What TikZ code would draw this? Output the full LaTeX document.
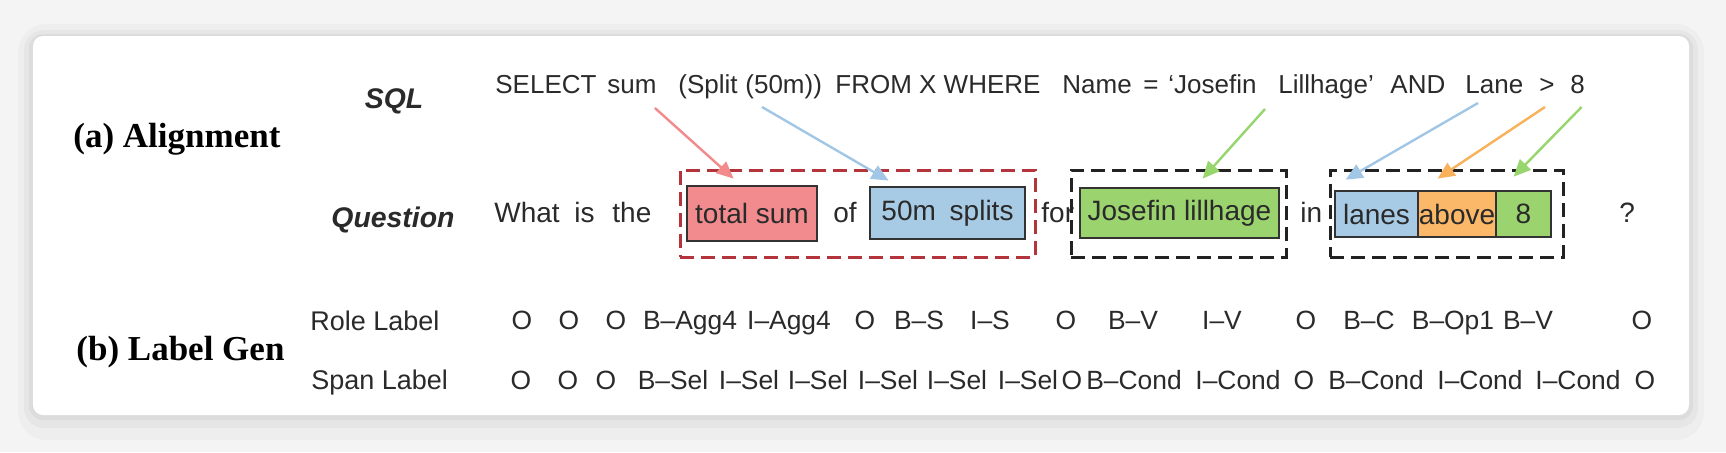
\documentclass[tikz,border=0pt]{standalone}
\usepackage{fontspec}
\setmainfont{Liberation Sans}
\newfontfamily\serifbold{Liberation Serif}
\usepackage{tikz}
\usetikzlibrary{positioning,arrows.meta}

\definecolor{txt}{HTML}{2A2A2A}
\definecolor{bgc}{HTML}{F4F4F4}
\definecolor{boxline}{HTML}{333333}
\definecolor{boxred}{HTML}{F28B8E}
\definecolor{boxblue}{HTML}{A8CBE5}
\definecolor{boxgreen}{HTML}{9BD46F}
\definecolor{boxorange}{HTML}{FBB868}
\definecolor{dashred}{HTML}{B3343A}
\definecolor{dashblack}{HTML}{222222}
\definecolor{arrred}{HTML}{F28A8C}
\definecolor{arrblue}{HTML}{A2C7E6}
\definecolor{arrgreen}{HTML}{97D66C}
\definecolor{arrorange}{HTML}{F8B25C}

\tikzset{
  sqltok/.style={anchor=base west, inner sep=0pt, text=txt, font=\fontsize{13}{16}\selectfont},
  qtok/.style={anchor=base west, inner sep=0pt, text=txt, font=\fontsize{14}{16}\selectfont},
  tokbox/.style={draw=boxline, line width=1.4pt, inner sep=0pt, text=txt, font=\fontsize{14}{16}\selectfont},
  dashbox/.style={line width=1.5pt, dash pattern=on 7pt off 3.5pt, inner sep=0pt},
  rolelab/.style={anchor=base, inner sep=0pt, text=txt, font=\fontsize{13.2}{16}\selectfont},
  rowname/.style={anchor=base west, inner sep=0pt, text=txt, font=\fontsize{13.5}{16}\selectfont},
  partname/.style={anchor=base west, inner sep=0pt, font={\serifbold\bfseries\fontsize{17.5}{20}\selectfont}},
  kindname/.style={anchor=base, inner sep=0pt, text=txt, font={\bfseries\itshape\fontsize{14.2}{17}\selectfont}},
  linkarrow/.style={line width=1.2pt, -{Triangle[length=8.5pt,width=7.5pt]}},
}

\begin{document}
\begin{tikzpicture}[x=0.5pt,y=-0.5pt]
\useasboundingbox (0,0) rectangle (1726,452);
\fill[bgc] (0,0) rectangle (1726,452);
\fill[black, opacity=0.025, rounded corners=14pt] (18,24) rectangle (1704,440);
\fill[black, opacity=0.03, rounded corners=10pt] (24,30) rectangle (1698,428);
\fill[black, opacity=0.04, rounded corners=7pt] (29,34) rectangle (1693,420);
\fill[white, rounded corners=5pt] (33,36) rectangle (1689,415);

% left labels
\node[partname] (AL) at (73,147) {(a) Alignment};
\node[partname] (LG) at (76,360) {(b) Label Gen};
\node[kindname] (SQ) at (394,108) {SQL};
\node[kindname] (QU) at (393,227) {Question};
\node[rowname] (RL) at (310,330) {Role Label};
\node[rowname] (SL) at (311,389) {Span Label};

% sql
\node[sqltok] (S1) at (495,93) {SELECT};
\node[sqltok] (S2) at (607,93) {sum};
\node[sqltok] (S3) at (678,93) {(Split};
\node[sqltok] (S4) at (745,93) {(50m))};
\node[sqltok] (S5) at (835,93) {FROM X WHERE};
\node[sqltok] (S6) at (1062,93) {Name};
\node[sqltok] (S7) at (1143,93) {=};
\node[sqltok] (S8) at (1168,93) {‘Josefin};
\node[sqltok] (S9) at (1278,93) {Lillhage’};
\node[sqltok] (S10) at (1390,93) {AND};
\node[sqltok] (S11) at (1465,93) {Lane};
\node[sqltok] (S12) at (1539,93) {>};
\node[sqltok] (S13) at (1570,93) {8};

% question
\node[qtok] (Q1) at (494,222) {What};
\node[qtok] (Q2) at (574,222) {is};
\node[qtok] (Q3) at (612,222) {the};
\node[qtok] (Q6) at (833,222) {of};
\node[qtok] (Q9) at (1041,222) {for};
\node[qtok] (Q12) at (1300,222) {in};
\node[qtok] (Q16) at (1619,222) {?};

\node[dashbox, draw=dashred, minimum width=177.5pt, minimum height=43.5pt] (D1) at (857.5,213.5) {};
\node[dashbox, draw=dashblack, minimum width=107.5pt, minimum height=43.5pt] (D2) at (1178.5,213.5) {};
\node[dashbox, draw=dashblack, minimum width=116.5pt, minimum height=43.5pt] (D3) at (1446.5,213.5) {};

\node[tokbox, fill=boxred, minimum width=65pt, minimum height=27.5pt] (TS) at (752,213.5) {total sum};
\node[tokbox, fill=boxblue, minimum width=77.5pt, minimum height=26pt] (MS) at (947.5,213) {50m\hspace{3pt} splits};
\node[tokbox, fill=boxgreen, minimum width=99.5pt, minimum height=25pt] (JL) at (1179.5,213) {Josefin lillhage};
\node[tokbox, fill=boxblue, minimum width=41.5pt, minimum height=23pt] (LA) at (1376.5,214) {lanes};
\node[tokbox, fill=boxorange, minimum width=39pt, minimum height=23pt] (AB) at (1457,214) {above};
\node[tokbox, fill=boxgreen, minimum width=27.5pt, minimum height=23pt] (EI) at (1523.5,214) {8};

\draw[linkarrow, arrred] ([shift={(-2,15)}]S2.base east) -- ([shift={(48,-6)}]TS.north west);
\draw[linkarrow, arrblue] ([shift={(17,14)}]S4.base west) -- ([shift={(20,-5)}]MS.north west);
\draw[linkarrow, arrgreen] ([shift={(-13,16)}]S9.base west) -- ([shift={(124,-8)}]JL.north west);
\draw[linkarrow, arrblue] ([shift={(13,10)}]S11.base west) -- ([shift={(12,-10)}]LA.north west);
\draw[linkarrow, arrorange] ([shift={(-2,14)}]S12.base) -- ([shift={(21,-11)}]AB.north west);
\draw[linkarrow, arrgreen] ([shift={(4,14)}]S13.base) -- ([shift={(19,-13)}]EI.north west);

% role labels
\node[rolelab] (R1) at (522,329) {O};
\node[rolelab] (R2) at (569,329) {O};
\node[rolelab] (R3) at (616,329) {O};
\node[rolelab] (R4) at (690,329) {B–Agg4};
\node[rolelab] (R5) at (789,329) {I–Agg4};
\node[rolelab] (R6) at (865,329) {O};
\node[rolelab] (R7) at (919,329) {B–S};
\node[rolelab] (R8) at (990,329) {I–S};
\node[rolelab] (R9) at (1066,329) {O};
\node[rolelab] (R10) at (1133,329) {B–V};
\node[rolelab] (R11) at (1222,329) {I–V};
\node[rolelab] (R12) at (1306,329) {O};
\node[rolelab] (R13) at (1369,329) {B–C};
\node[rolelab] (R14) at (1453,329) {B–Op1};
\node[rolelab] (R15) at (1528,329) {B–V};
\node[rolelab] (R16) at (1642,329) {O};

% span labels
\node[rolelab] (P1) at (521,389) {O};
\node[rolelab] (P2) at (568,389) {O};
\node[rolelab] (P3) at (606,389) {O};
\node[rolelab] (P4) at (673,389) {B–Sel};
\node[rolelab] (P5) at (749,389) {I–Sel};
\node[rolelab] (P6) at (818,389) {I–Sel};
\node[rolelab] (P7) at (888,389) {I–Sel};
\node[rolelab] (P8) at (957,389) {I–Sel};
\node[rolelab] (P9) at (1028,389) {I–Sel};
\node[rolelab] (P10) at (1072,389) {O};
\node[rolelab] (P11) at (1134,389) {B–Cond};
\node[rolelab] (P12) at (1238,389) {I–Cond};
\node[rolelab] (P13) at (1304,389) {O};
\node[rolelab] (P14) at (1376,389) {B–Cond};
\node[rolelab] (P15) at (1480,389) {I–Cond};
\node[rolelab] (P16) at (1578,389) {I–Cond};
\node[rolelab] (P17) at (1645,389) {O};
\end{tikzpicture}
\end{document}
